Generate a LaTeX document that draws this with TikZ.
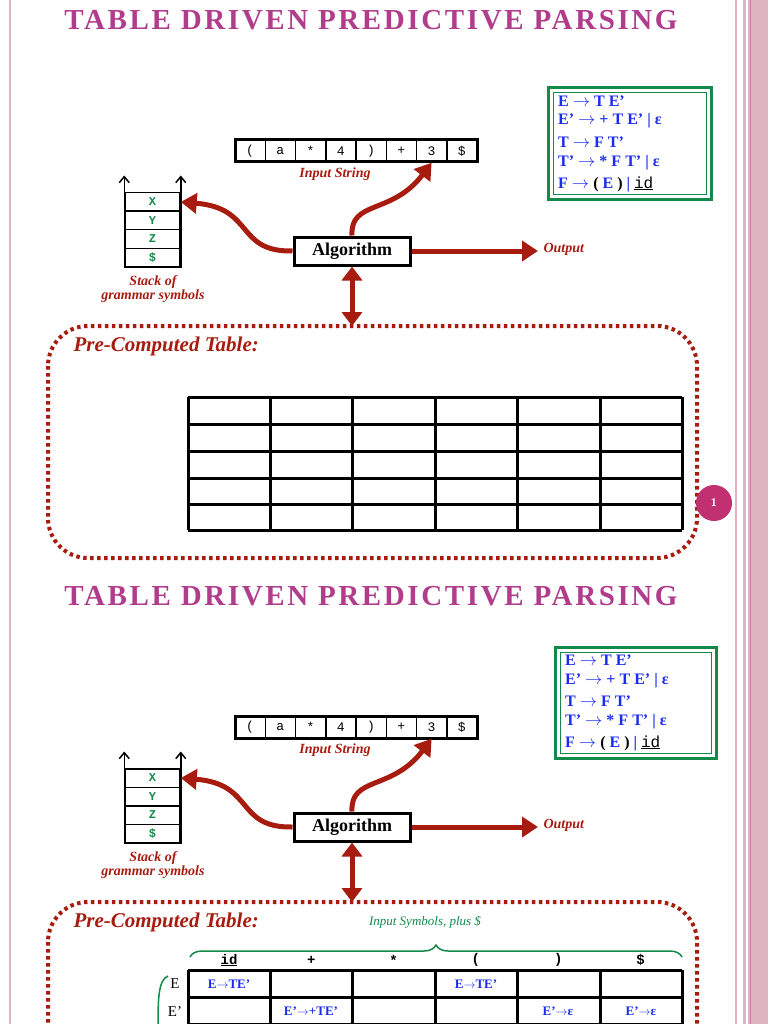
\documentclass[tikz,border=0pt]{standalone}
\usepackage{fontspec}
\setmainfont{Liberation Serif}
\setmonofont{Liberation Mono}
\newfontfamily\titlefont[LetterSpace=9]{Liberation Serif}
\usetikzlibrary{arrows.meta,decorations.pathreplacing}
\definecolor{slidered}{HTML}{A81C10}
\definecolor{titlepink}{HTML}{B23C8C}
\definecolor{gramgreen}{HTML}{138A4A}
\definecolor{gramblue}{HTML}{1A2CF0}
\definecolor{edgepink}{HTML}{DDB4BF}
\tikzset{
  bigarrow/.style={slidered,line width=5pt,-{Triangle[width=20pt,length=16pt]}},
  cell/.style={draw,line width=1.5pt,minimum width=55pt,minimum height=18.5pt,inner sep=0pt,text=gramgreen,font=\ttfamily\bfseries\fontsize{12}{12}\selectfont},
  note/.style={text=slidered,font=\itshape\bfseries\fontsize{14}{14}\selectfont},
  gram/.style={anchor=west,text=gramblue,font=\bfseries\fontsize{16}{16}\selectfont,inner sep=0pt},
}
\newcommand{\slidebody}{%
  % title
  \node[text=titlepink,font=\titlefont\bfseries\fontsize{29}{29}\selectfont] (title) at (371,20) {TABLE DRIVEN PREDICTIVE PARSING};
  % input string
  \foreach \s [count=\i] in {{(},a,*,4,{)},+,3,\$}
    \node[draw,line width=1.5pt,minimum width=30.25pt,minimum height=22pt,inner sep=0pt,font=\ttfamily\fontsize{13}{13}\selectfont] (in\i) at (235+30.25*\i-15.125,151) {\s};
  \draw[line width=3pt] (235,140) rectangle (477,162);
  \node[note] (inlabel) at (335,174) {Input String};
  % stack
  \foreach \s [count=\i] in {X,Y,Z,\$}
    \node[cell] (st\i) at (152.5,202+18.5*\i-18.5) {\s};
  \draw[line width=1.5pt,-{Straight Barb[length=6pt,width=10pt]}] (st4.south west) -- ++(0,-92);
  \draw[line width=1.5pt,-{Straight Barb[length=6pt,width=10pt]}] (st4.south east) -- ++(0,-92);
  \node[note,align=center] (stlabel) at (153,289) {Stack of\\grammar symbols};
  % algorithm
  \node[draw,line width=3pt,minimum width=116pt,minimum height=28pt,font=\bfseries\fontsize{18}{18}\selectfont] (algo) at (352,251) {Algorithm};
  \coordinate (outend) at (538,251);
  \node[note,anchor=west] (output) at (540,249) {Output};
  \draw[bigarrow] (algo.east) -- (outend);
  \draw[bigarrow] (algo.west) .. controls (235,252) and (255,208) .. (st1.east);
  \draw[bigarrow] (algo.north) .. controls (350,200) and (392,215) .. (in7.south);
  \coordinate (tabtop) at (352,326);
  \draw[slidered,line width=5pt,{Triangle[width=20pt,length=14pt]}-{Triangle[width=20pt,length=14pt]}] (algo.south) -- (tabtop);
  % table frame
  \draw[slidered,line width=4pt,dash pattern=on 3.5pt off 3.5pt,rounded corners=40pt] (48,326) rectangle (697,558);
  \node[anchor=west,text=slidered,font=\itshape\bfseries\fontsize{21}{21}\selectfont] (tablabel) at (70,346) {Pre-Computed Table:};
}
\begin{document}
\begin{tikzpicture}[x=1pt,y=-1pt]
\useasboundingbox (0,0) rectangle (768,1024);
\clip (0,0) rectangle (768,1024);
% page edges
\draw[edgepink,line width=2pt] (10,0) -- (10,1024);
\draw[edgepink,line width=2pt] (736,0) -- (736,1024);
\draw[edgepink,line width=3pt] (744,0) -- (744,1024);
\fill[edgepink] (748,0) rectangle (768,1024);
\draw[titlepink!70,line width=1pt] (750,0) -- (750,1024);

% first slide
\slidebody
\draw[gramgreen,line width=3pt] (548,88) rectangle (711,200);
\draw[gramgreen,line width=1pt] (553,93) rectangle (706,195);
\node[gram] (g1) at (558,101) {E \(\rightarrow\) T E'};
\node[gram] (g2) at (558,121) {E' \(\rightarrow\) + T E' \textbar\ ε};
\node[gram] (g3) at (558,142) {T \(\rightarrow\) F T'};
\node[gram] (g4) at (558,163) {T' \(\rightarrow\) * F T' \textbar\ ε};
\node[gram] (g5) at (558,184) {F \(\rightarrow\) \textcolor{black}{(} E \textcolor{black}{)} \textbar\ \textcolor{black}{\ttfamily\mdseries\underline{id}}};
\foreach \x in {188,270,352,435,517,600,682}
  \draw[line width=3pt] (\x,397) -- (\x,530);
\foreach \y in {397,424,451,478,504,530}
  \draw[line width=3pt] (188,\y) -- (682,\y);
\node[circle,fill=titlepink!80!red,minimum size=36pt,inner sep=0pt,text=white,font=\sffamily\bfseries\fontsize{11}{11}\selectfont] (pagenum) at (714,503) {1};

% second slide
\begin{scope}[shift={(0,576)},name prefix=b-]
\slidebody
\end{scope}
\draw[gramgreen,line width=3pt] (555,647) rectangle (716,758);
\draw[gramgreen,line width=1pt] (560,652) rectangle (711,753);
\node[gram] (h1) at (565,660) {E \(\rightarrow\) T E'};
\node[gram] (h2) at (565,681) {E' \(\rightarrow\) + T E' \textbar\ ε};
\node[gram] (h3) at (565,701) {T \(\rightarrow\) F T'};
\node[gram] (h4) at (565,722) {T' \(\rightarrow\) * F T' \textbar\ ε};
\node[gram] (h5) at (565,743) {F \(\rightarrow\) \textcolor{black}{(} E \textcolor{black}{)} \textbar\ \textcolor{black}{\ttfamily\mdseries\underline{id}}};
\draw[gramgreen,line width=1.5pt,decorate,decoration={brace,amplitude=12pt}] (190,957) -- (682,957);
\node[text=gramgreen,font=\itshape\fontsize{13}{13}\selectfont] (symlabel) at (425,922) {Input Symbols, plus \$};
\foreach \s [count=\i] in {\underline{id},+,*,{(},{)},\$}
  \node[font=\ttfamily\bfseries\fontsize{14}{14}\selectfont] (hd\i) at (229+82.3*\i-82.3,960) {\s};
\foreach \x in {188,270,352,435,517,600,682}
  \draw[line width=3pt] (\x,970) -- (\x,1030);
\foreach \y in {970,997,1024}
  \draw[line width=3pt] (188,\y) -- (682,\y);
\draw[gramgreen,line width=1.5pt] (168,976) .. controls (158,980) and (158,1000) .. (158,1030);
\node[font=\fontsize{15}{15}\selectfont] (rE) at (175,984) {E};
\node[font=\fontsize{15}{15}\selectfont] (rEp) at (175,1011) {E'};
\tikzset{entry/.style={text=gramblue,font=\bfseries\fontsize{13}{13}\selectfont}}
\node[entry] (c11) at (229,984) {E\(\rightarrow\)TE'};
\node[entry] (c14) at (476,984) {E\(\rightarrow\)TE'};
\node[entry] (c22) at (311,1011) {E'\(\rightarrow\)+TE'};
\node[entry] (c25) at (558,1011) {E'\(\rightarrow\)ε};
\node[entry] (c26) at (641,1011) {E'\(\rightarrow\)ε};
\end{tikzpicture}
\end{document}
